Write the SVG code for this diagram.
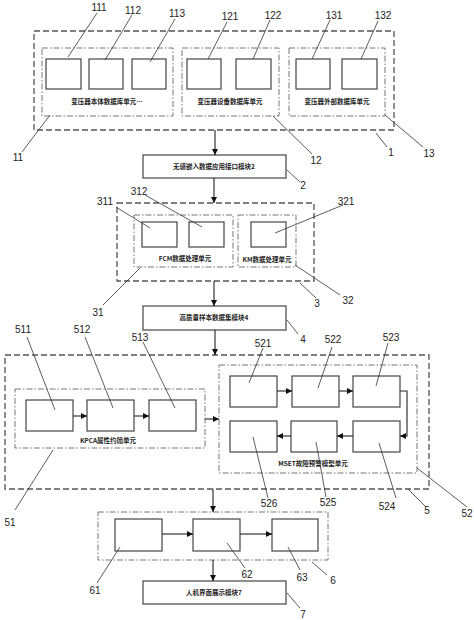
<svg xmlns="http://www.w3.org/2000/svg" width="474" height="620" viewBox="0 0 474 620">
<defs>
<marker id="ah" viewBox="0 0 10 10" refX="10" refY="5" markerWidth="6" markerHeight="6" markerUnits="userSpaceOnUse" orient="auto">
<path d="M0,0 L10,5 L0,10 Z" fill="#111"/>
</marker>
</defs>
<style>
.mod{fill:none;stroke:#555;stroke-width:1.3;stroke-dasharray:6,3}
.unit{fill:none;stroke:#777;stroke-width:1;stroke-dasharray:6,2,1.5,2}
.box{fill:#fff;stroke:#444;stroke-width:1.2}
.cn{font-family:"Noto Sans CJK SC","Noto Sans",sans-serif;font-size:6.5px;font-weight:bold;fill:#222;text-anchor:middle}
.num{font-family:"Liberation Sans Narrow","Liberation Sans",Arial,sans-serif;font-size:10px;fill:#222;text-anchor:middle}
.ld{stroke:#333;stroke-width:0.8;fill:none}
.ar{stroke:#222;stroke-width:1.1;fill:none;marker-end:url(#ah)}
</style>
<rect width="474" height="620" fill="#fff"/>

<g id="module1">
<rect class="mod" x="34" y="31" width="360" height="99"/>
</g>
<g id="unit11">
<rect class="unit" x="42" y="48" width="131" height="68"/>
<rect class="box" x="46" y="59" width="35" height="30"/>
<rect class="box" x="89" y="59" width="34" height="30"/>
<rect class="box" x="132" y="59" width="34" height="30"/>
<text class="cn" x="107" y="104">变压器本体数据库单元…</text>
</g>
<g id="unit12">
<rect class="unit" x="182" y="48" width="97" height="68"/>
<rect class="box" x="187" y="59" width="34" height="30"/>
<rect class="box" x="236" y="59" width="35" height="30"/>
<text class="cn" x="230" y="104">变压器设备数据库单元</text>
</g>
<g id="unit13">
<rect class="unit" x="289" y="48" width="96" height="68"/>
<rect class="box" x="296" y="59" width="34" height="30"/>
<rect class="box" x="342" y="59" width="35" height="30"/>
<text class="cn" x="337" y="104">变压器外部数据库单元</text>
</g>

<g id="module2">
<rect class="box" x="143" y="155" width="143" height="23"/>
<text class="cn" x="214" y="169">无感嵌入数据应用接口模块2</text>
</g>

<g id="module3">
<rect class="mod" x="117" y="203" width="197" height="78"/>
</g>
<g id="unit31">
<rect class="unit" x="134" y="215" width="99" height="52"/>
<rect class="box" x="142" y="222" width="35" height="25"/>
<rect class="box" x="189" y="222" width="35" height="25"/>
<text class="cn" x="185" y="261">FCM数据处理单元</text>
</g>
<g id="unit32">
<rect class="unit" x="238" y="215" width="58" height="52"/>
<rect class="box" x="251" y="222" width="35" height="25"/>
<text class="cn" x="267" y="262">KM数据处理单元</text>
</g>

<g id="module4">
<rect class="box" x="143" y="306" width="143" height="24"/>
<text class="cn" x="214" y="320">高质量样本数据集模块4</text>
</g>

<g id="module5">
<rect class="mod" x="5" y="355" width="424" height="134"/>
</g>
<g id="unit51">
<rect class="unit" x="15" y="389" width="190" height="59"/>
<rect class="box" x="26" y="400" width="47" height="31"/>
<rect class="box" x="87" y="400" width="47" height="31"/>
<rect class="box" x="149" y="400" width="47" height="31"/>
<text class="cn" x="108" y="443">KPCA属性约简单元</text>
</g>
<g id="unit52">
<rect class="unit" x="219" y="365" width="198" height="108"/>
<rect class="box" x="230" y="376" width="47" height="31"/>
<rect class="box" x="292" y="376" width="47" height="31"/>
<rect class="box" x="353" y="376" width="47" height="31"/>
<rect class="box" x="353" y="421" width="47" height="31"/>
<rect class="box" x="291" y="421" width="46" height="31"/>
<rect class="box" x="230" y="421" width="47" height="31"/>
<text class="cn" x="313" y="466">MSET故障预警模型单元</text>
</g>

<g id="module6">
<rect class="unit" x="98" y="512" width="230" height="48"/>
<rect class="box" x="115" y="519" width="47" height="32"/>
<rect class="box" x="193" y="519" width="47" height="32"/>
<rect class="box" x="272" y="519" width="46" height="32"/>
</g>

<g id="module7">
<rect class="box" x="143" y="581" width="143" height="23"/>
<text class="cn" x="214" y="595">人机界面展示模块7</text>
</g>

<g id="connectors">
<line class="ar" x1="215" y1="130" x2="215" y2="155"/>
<line class="ar" x1="214" y1="178" x2="214" y2="203"/>
<line class="ar" x1="214" y1="281" x2="214" y2="306"/>
<line class="ar" x1="215" y1="330" x2="215" y2="355"/>
<line class="ar" x1="73" y1="416" x2="87" y2="416"/>
<line class="ar" x1="134" y1="416" x2="149" y2="416"/>
<line class="ar" x1="205" y1="419" x2="219" y2="419"/>
<line class="ar" x1="277" y1="391" x2="292" y2="391"/>
<line class="ar" x1="339" y1="391" x2="353" y2="391"/>
<polyline class="ar" points="400,391 407,391 407,436 400,436"/>
<line class="ar" x1="353" y1="436" x2="337" y2="436"/>
<line class="ar" x1="291" y1="436" x2="277" y2="436"/>
<line class="ar" x1="213" y1="489" x2="213" y2="512"/>
<line class="ar" x1="162" y1="534" x2="193" y2="534"/>
<line class="ar" x1="240" y1="534" x2="272" y2="534"/>
<line class="ar" x1="213" y1="560" x2="213" y2="581"/>
</g>

<g id="leaders">
<line class="ld" x1="97" y1="13" x2="68" y2="57"/>
<line class="ld" x1="132" y1="15" x2="105" y2="60"/>
<line class="ld" x1="175" y1="19" x2="150" y2="62"/>
<line class="ld" x1="227" y1="22" x2="208" y2="59"/>
<line class="ld" x1="270" y1="20" x2="253" y2="59"/>
<line class="ld" x1="330" y1="20" x2="312" y2="59"/>
<line class="ld" x1="378" y1="21" x2="361" y2="59"/>
<line class="ld" x1="22" y1="152" x2="50" y2="115"/>
<line class="ld" x1="273" y1="116" x2="312" y2="154"/>
<line class="ld" x1="376" y1="133" x2="387" y2="147"/>
<line class="ld" x1="385" y1="115" x2="423" y2="147"/>
<line class="ld" x1="287" y1="170" x2="300" y2="182"/>
<line class="ld" x1="116" y1="207" x2="150" y2="228"/>
<line class="ld" x1="145" y1="195" x2="202" y2="227"/>
<line class="ld" x1="343" y1="205" x2="275" y2="233"/>
<line class="ld" x1="103" y1="305" x2="140" y2="268"/>
<line class="ld" x1="300" y1="283" x2="316" y2="298"/>
<line class="ld" x1="295" y1="265" x2="340" y2="295"/>
<line class="ld" x1="287" y1="320" x2="298" y2="334"/>
<line class="ld" x1="27" y1="337" x2="55" y2="410"/>
<line class="ld" x1="85" y1="337" x2="113" y2="408"/>
<line class="ld" x1="143" y1="342" x2="175" y2="408"/>
<line class="ld" x1="263" y1="348" x2="249" y2="383"/>
<line class="ld" x1="332" y1="347" x2="318" y2="388"/>
<line class="ld" x1="388" y1="343" x2="376" y2="386"/>
<line class="ld" x1="268" y1="498" x2="253" y2="437"/>
<line class="ld" x1="326" y1="497" x2="316" y2="442"/>
<line class="ld" x1="396" y1="498" x2="379" y2="443"/>
<line class="ld" x1="408" y1="489" x2="426" y2="507"/>
<line class="ld" x1="417" y1="468" x2="467" y2="507"/>
<line class="ld" x1="53" y1="450" x2="15" y2="510"/>
<line class="ld" x1="97" y1="583" x2="120" y2="547"/>
<line class="ld" x1="245" y1="568" x2="227" y2="543"/>
<line class="ld" x1="300" y1="570" x2="288" y2="547"/>
<line class="ld" x1="312" y1="562" x2="327" y2="575"/>
<line class="ld" x1="287" y1="593" x2="300" y2="608"/>
</g>

<g id="labels">
<text class="num" x="99" y="11">111</text>
<text class="num" x="133" y="14">112</text>
<text class="num" x="177" y="17">113</text>
<text class="num" x="230" y="20">121</text>
<text class="num" x="273" y="19">122</text>
<text class="num" x="334" y="19">131</text>
<text class="num" x="383" y="19">132</text>
<text class="num" x="18" y="161">11</text>
<text class="num" x="316" y="164">12</text>
<text class="num" x="391" y="156">1</text>
<text class="num" x="429" y="157">13</text>
<text class="num" x="303" y="189">2</text>
<text class="num" x="105" y="205">311</text>
<text class="num" x="139" y="195">312</text>
<text class="num" x="346" y="205">321</text>
<text class="num" x="98" y="316">31</text>
<text class="num" x="317" y="307">3</text>
<text class="num" x="348" y="304">32</text>
<text class="num" x="303" y="343">4</text>
<text class="num" x="23" y="333">511</text>
<text class="num" x="82" y="333">512</text>
<text class="num" x="140" y="341">513</text>
<text class="num" x="263" y="347">521</text>
<text class="num" x="333" y="343">522</text>
<text class="num" x="391" y="341">523</text>
<text class="num" x="269" y="507">526</text>
<text class="num" x="328" y="506">525</text>
<text class="num" x="387" y="510">524</text>
<text class="num" x="427" y="514">5</text>
<text class="num" x="467" y="517">52</text>
<text class="num" x="10" y="526">51</text>
<text class="num" x="95" y="594">61</text>
<text class="num" x="247" y="578">62</text>
<text class="num" x="302" y="581">63</text>
<text class="num" x="333" y="584">6</text>
<text class="num" x="303" y="618">7</text>
</g>
</svg>
